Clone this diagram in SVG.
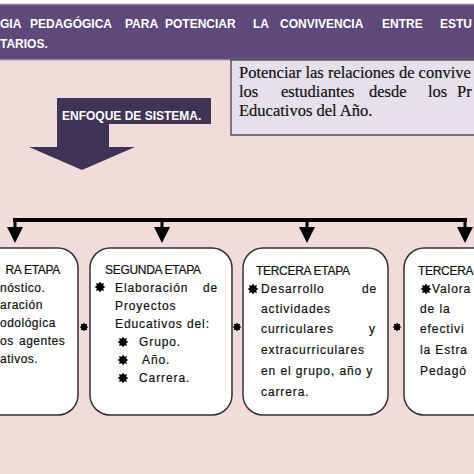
<svg xmlns="http://www.w3.org/2000/svg" width="474" height="474" viewBox="0 0 474 474">
<style>
.bar{font-family:"Liberation Sans",Arial,sans-serif;font-weight:bold;font-size:12px;fill:#ffffff}
.goal{font-family:"Liberation Serif","Times New Roman",serif;font-size:16.5px;fill:#111111;stroke:#111111;stroke-width:0.2}
.head{font-family:"Liberation Sans",Arial,sans-serif;font-size:12px;letter-spacing:-0.3px;fill:#111111;stroke:#111111;stroke-width:0.2}
.body{font-family:"Liberation Sans",Arial,sans-serif;font-size:12px;letter-spacing:0.9px;fill:#111111;stroke:#111111;stroke-width:0.2}
.tight{letter-spacing:0.5px}
.box{fill:#ffffff;stroke:#333333;stroke-width:1.5}
.conn{stroke:#000000;fill:none}
.tip{fill:#000000}
.star{fill:#000000}
</style>
<defs>
<polygon id="star" points="0,-5 1.225,-2.956 3.536,-3.536 2.956,-1.225 5,0 2.956,1.225 3.536,3.536 1.225,2.956 0,5 -1.225,2.956 -3.536,3.536 -2.956,1.225 -5,0 -2.956,-1.225 -3.536,-3.536 -1.225,-2.956"/>
</defs>
<rect x="0" y="0" width="474" height="474" fill="#f1dcdb"/>
<rect x="0" y="0" width="474" height="4" fill="#ffffff"/>
<g id="title">
<rect x="-2" y="4.5" width="478" height="55" fill="#5f497a" stroke="#8a78a6" stroke-width="1.5"/>
<text class="bar" y="28"><tspan x="0">GIA</tspan><tspan x="30">PEDAGÓGICA</tspan><tspan x="125">PARA</tspan><tspan x="165">POTENCIAR</tspan><tspan x="253">LA</tspan><tspan x="280">CONVIVENCIA</tspan><tspan x="382">ENTRE</tspan><tspan x="440">ESTU</tspan></text>
<text class="bar" x="0" y="48">TARIOS.</text>
</g>
<g id="objetivo">
<rect x="231" y="60" width="250" height="75" fill="#e5e0ec" stroke="#333333" stroke-width="1.2"/>
<text class="goal" x="239" y="78">Potenciar las relaciones de convive</text>
<text class="goal" y="97"><tspan x="239">los</tspan><tspan x="281">estudiantes</tspan><tspan x="369">desde</tspan><tspan x="428">los</tspan><tspan x="457">Pr</tspan></text>
<text class="goal" x="239" y="116">Educativos del Año.</text>
</g>
<g id="enfoque">
<polygon points="57,98 211,98 211,124 109,124 109,147 135,147 82,170 29,147 57,147" fill="#3f3457"/>
<text class="bar" x="62" y="120">ENFOQUE DE SISTEMA.</text>
</g>
<g id="connectors">
<path class="conn" stroke-width="4" d="M13,220 H467"/>
<path class="conn" stroke-width="3" d="M15,220 V229 M162,220 V229 M307,220 V229 M465,220 V229"/>
<polygon class="tip" points="7,227 23,227 15,243"/>
<polygon class="tip" points="154,227 170,227 162,243"/>
<polygon class="tip" points="299,227 315,227 307,243"/>
<polygon class="tip" points="457,227 473,227 465,243"/>
<use href="#star" class="star" transform="translate(84,327) scale(0.9)"/>
<use href="#star" class="star" transform="translate(237,327) scale(0.9)"/>
<use href="#star" class="star" transform="translate(397,327) scale(0.9)"/>
</g>
<g id="etapa1">
<rect class="box" x="-20" y="248" width="98" height="167" rx="20" ry="20"/>
<text class="head" x="60" y="274" text-anchor="end">RA ETAPA</text>
<text class="body tight" x="0" y="292">nóstico.</text>
<text class="body tight" x="0" y="309">aración</text>
<text class="body tight" x="0" y="327">odológica</text>
<text class="body tight" y="345"><tspan x="0">os</tspan><tspan x="19">agentes</tspan></text>
<text class="body tight" x="0" y="363">ativos.</text>
</g>
<g id="etapa2">
<rect class="box" x="90" y="248" width="142" height="167" rx="20" ry="20"/>
<text class="head" x="105" y="274">SEGUNDA ETAPA</text>
<use href="#star" class="star" transform="translate(100,287) scale(1.1)"/>
<text class="body" y="292"><tspan x="115">Elaboración</tspan><tspan x="203">de</tspan></text>
<text class="body" x="115" y="310">Proyectos</text>
<text class="body" x="115" y="328">Educativos del:</text>
<use href="#star" class="star" transform="translate(123,342) scale(1.1)"/>
<text class="body" x="139" y="346">Grupo.</text>
<use href="#star" class="star" transform="translate(123,360) scale(1.1)"/>
<text class="body" x="142" y="364">Año.</text>
<use href="#star" class="star" transform="translate(123,378) scale(1.1)"/>
<text class="body" x="139" y="382">Carrera.</text>
</g>
<g id="etapa3">
<rect class="box" x="243" y="248" width="145" height="167" rx="20" ry="20"/>
<text class="head" x="256" y="275">TERCERA ETAPA</text>
<use href="#star" class="star" transform="translate(253,289) scale(1.1)"/>
<text class="body" y="293"><tspan x="261">Desarrollo</tspan><tspan x="362">de</tspan></text>
<text class="body" x="261" y="313">actividades</text>
<text class="body" y="333"><tspan x="261">curriculares</tspan><tspan x="369">y</tspan></text>
<text class="body" x="261" y="354">extracurriculares</text>
<text class="body" x="261" y="375">en el grupo, año y</text>
<text class="body" x="261" y="396">carrera.</text>
</g>
<g id="etapa4">
<rect class="box" x="404" y="248" width="100" height="167" rx="20" ry="20"/>
<text class="head" x="418" y="275">TERCERA</text>
<use href="#star" class="star" transform="translate(426,289) scale(1.1)"/>
<text class="body" x="432" y="293">Valora</text>
<text class="body" x="420" y="313">de la</text>
<text class="body" x="420" y="333">efectivi</text>
<text class="body" x="420" y="354">la Estra</text>
<text class="body" x="420" y="375">Pedagó</text>
</g>
</svg>
